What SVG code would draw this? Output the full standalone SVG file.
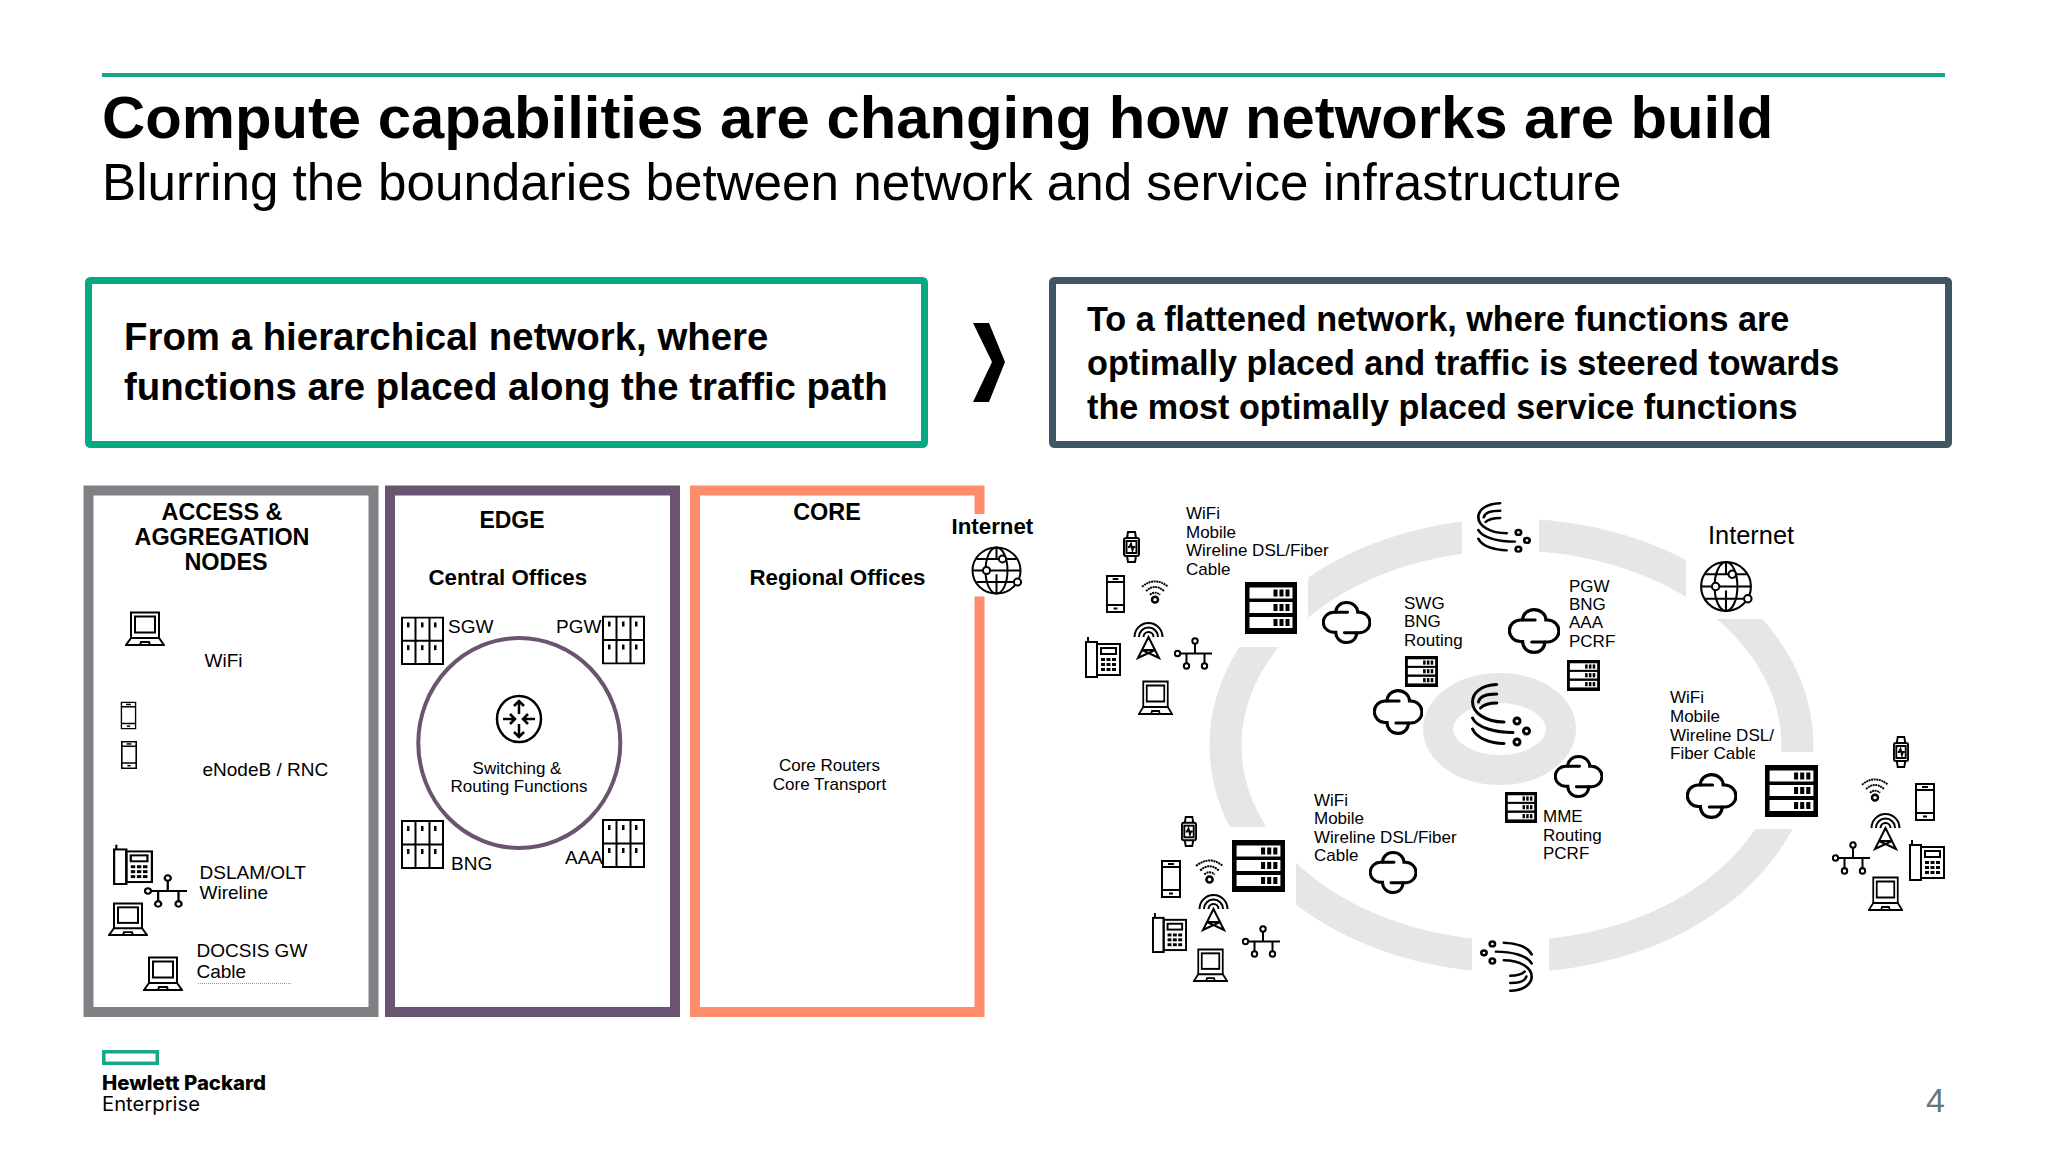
<svg xmlns="http://www.w3.org/2000/svg" width="2048" height="1152" viewBox="0 0 2048 1152">
<style>
text{font-family:"Liberation Sans",Arial,sans-serif;fill:#000}
.b{font-weight:700}
.t17{font-size:17px}.t19{font-size:19px}.t23{font-size:23.400px;font-weight:700}.t22{font-size:22.300px;font-weight:700}
.m{text-anchor:middle}
.ic{fill:none;stroke:#000;stroke-width:2}
.f3{fill:none;stroke:#000;stroke-width:3;stroke-linecap:round}
.k{fill:#000;stroke:none}
.w{fill:#fff;stroke:none}
.panel{fill:#fff;stroke-width:10}
</style>
<defs>
<symbol id="laptop" viewBox="0 0 40 35" preserveAspectRatio="none"><g class="ic"><path d="M6 27V1.5H34V27"/><rect x="10" y="5.500" width="20" height="16"/><path d="M6 27L1 34H39L34 27ZM15 34l1-3h8l1 3"/></g></symbol>
<symbol id="phone" viewBox="0 0 20 38" preserveAspectRatio="none"><g class="ic"><rect x="1" y="1" width="18" height="36"/><path d="M1 7H19M1 30H19"/></g><rect class="k" x="7" y="3" width="6" height="2"/><rect class="k" x="8" y="32.500" width="4" height="2"/></symbol>
<symbol id="desk" viewBox="0 0 36 41" preserveAspectRatio="none"><g class="ic"><rect x="1" y="5" width="11" height="35"/><path d="M3 5V0"/><rect x="12" y="7" width="23" height="31"/><rect x="16" y="11" width="15" height="6"/></g>
<g class="k"><rect x="16" y="21" width="4" height="3"/><rect x="21.500" y="21" width="4" height="3"/><rect x="27" y="21" width="4" height="3"/><rect x="16" y="26" width="4" height="3"/><rect x="21.500" y="26" width="4" height="3"/><rect x="27" y="26" width="4" height="3"/><rect x="16" y="31" width="4" height="3"/><rect x="21.500" y="31" width="4" height="3"/><rect x="27" y="31" width="4" height="3"/></g></symbol>
<symbol id="netw" viewBox="0 0 38 33" preserveAspectRatio="none"><g class="ic"><path d="M6 16.500H38M21 7V16.500M12.500 16.500V26M30.500 16.500V26"/><circle cx="3.500" cy="16.500" r="2.700"/><circle cx="21" cy="4" r="2.700"/><circle cx="12.500" cy="29" r="2.700"/><circle cx="30.500" cy="29" r="2.700"/></g></symbol>
<symbol id="wifi" viewBox="0 0 28 26" preserveAspectRatio="none"><g class="ic"><path d="M1 8Q14 -3 27 8" stroke-dasharray="2 .6"/><path d="M5 12.500Q14 4 23 12.500" stroke-dasharray="2 .6"/><path d="M9 16.500Q14 12 19 16.500" stroke-dasharray="2 .6"/><circle cx="14" cy="21.500" r="3" stroke-width="2.500"/></g></symbol>
<symbol id="tower" viewBox="0 0 31 38" preserveAspectRatio="none"><g class="ic" stroke-width="2.200"><path d="M1.500 15A14 14 0 0 1 29.500 15M6 15A9.500 9.500 0 0 1 25 15M10.500 15A5 5 0 0 1 20.500 15"/><path d="M15.500 15L5 36L22 28H9L26 36Z"/></g></symbol>
<symbol id="watch" viewBox="0 0 17 32" preserveAspectRatio="none"><g class="ic" stroke-width="1.500"><rect x="1" y="7" width="15" height="18" rx="2"/><rect x="3.500" y="10" width="10" height="12"/><path d="M4 7L5 1H12L13 7M4 25L5 31H12L13 25M5 16h1.500l1.500-3l1.500 6l1-3h2"/></g></symbol>
<symbol id="server" viewBox="0 0 52 52" preserveAspectRatio="none"><rect class="k" width="52" height="52"/><g class="w"><rect x="4.500" y="5.500" width="43" height="11"/><rect x="4.500" y="20" width="43" height="11"/><rect x="4.500" y="35" width="43" height="11"/></g><g class="k"><rect x="28.500" y="7.500" width="4" height="7"/><rect x="34.500" y="7.500" width="4" height="7"/><rect x="40.500" y="7.500" width="4" height="7"/><rect x="28.500" y="22" width="4" height="7"/><rect x="34.500" y="22" width="4" height="7"/><rect x="40.500" y="22" width="4" height="7"/><rect x="28.500" y="37" width="4" height="7"/><rect x="34.500" y="37" width="4" height="7"/><rect x="40.500" y="37" width="4" height="7"/></g></symbol>
<symbol id="cloud" viewBox="0 0 48 44" preserveAspectRatio="none"><g class="f3" stroke-width="2.800"><path d="M25 11.500H11.500A10 10 0 0 0 11.500 32H13.500C13.500 38 18 42.500 24 42.500C30 42.500 34 38 34 32.500"/><path d="M22 32.500H36.500A10.500 10.500 0 0 0 36.500 11.500H35C35 6 30 1.500 24 1.500C18 1.500 13.500 6 13.500 11.500"/></g></symbol>
<symbol id="globe" viewBox="0 0 52 52" preserveAspectRatio="none"><g class="ic" stroke-width="2.400"><circle cx="26" cy="26" r="24"/><ellipse cx="26" cy="26" rx="11" ry="24"/><path d="M26 2V13M26 30V50M6 14H28M36 14H46M2 26H12M20 26H50M6 38H43"/></g><g class="ic" stroke-width="2.400"><circle cx="32" cy="14" r="3.600" fill="#fff"/><circle cx="16" cy="26" r="3.600" fill="#fff"/><circle cx="47" cy="38" r="3.600" fill="#fff"/></g></symbol>
<symbol id="rack" viewBox="0 0 43 49" preserveAspectRatio="none"><g class="ic"><rect x="1" y="1" width="41" height="47"/><path d="M1 24.500H42M14.500 1V48M28.500 1V48"/></g><g class="k"><rect x="6" y="6" width="2.500" height="5"/><rect x="20" y="6" width="2.500" height="5"/><rect x="33" y="6" width="2.500" height="5"/><rect x="6" y="29" width="2.500" height="5"/><rect x="20" y="29" width="2.500" height="5"/><rect x="33" y="29" width="2.500" height="5"/></g></symbol>
<symbol id="fiber" viewBox="0 0 60 65" preserveAspectRatio="none"><g class="f3"><path d="M25.700 1.500C10 2 1.500 10 1.500 19C1.500 30 15 39 33 39"/><path d="M25.700 11C15 11 8.500 14 7.500 19M25.700 20C18 20 12.500 22 9.500 25"/><path d="M1.500 35C6 45 25 49.500 42 49.500M1.500 46C6 56 20 60 33 60.500"/><circle cx="46" cy="38" r="3"/><circle cx="55.500" cy="48" r="3"/><circle cx="46" cy="59" r="3"/></g></symbol>
</defs>
<rect width="2048" height="1152" fill="#fff"/>
<g id="header">
<rect x="102" y="73" width="1843" height="4" fill="#17a687"/>
<text class="b" x="102" y="138" font-size="59.800">Compute capabilities are changing how networks are build</text>
<text x="102" y="200" font-size="51.200">Blurring the boundaries between network and service infrastructure</text>
</g>
<g id="from-box">
<rect x="88.500" y="280.500" width="836" height="164" rx="2" fill="#fff" stroke="#07a884" stroke-width="7"/>
<text class="b" x="124" y="350" font-size="38.400">From a hierarchical network, where</text>
<text class="b" x="124" y="400" font-size="38.400">functions are placed along the traffic path</text>
</g>
<polygon id="chevron" points="973,323 989,323 1005,362 989,402 973,402 992,362" fill="#000"/>
<g id="to-box">
<rect x="1052.500" y="280.500" width="896" height="164" rx="2" fill="#fff" stroke="#425563" stroke-width="7"/>
<text class="b" x="1087" y="331" font-size="34.200">To a flattened network, where functions are</text>
<text class="b" x="1087" y="375" font-size="34.200">optimally placed and traffic is steered towards</text>
<text class="b" x="1087" y="419" font-size="34.200">the most optimally placed service functions</text>
</g>

<g id="access">
<rect class="panel" x="88.500" y="490.500" width="285" height="521.500" stroke="#808184"/>
<text class="t23 m" x="222" y="520">ACCESS &amp;</text>
<text class="t23 m" x="222" y="544.500">AGGREGATION</text>
<text class="t23 m" x="226" y="570">NODES</text>
<use href="#laptop" x="125" y="611" width="40" height="35"/>
<text class="t19" x="204.500" y="667">WiFi</text>
<use href="#phone" x="120.500" y="701.500" width="16" height="28"/>
<use href="#phone" x="121" y="741" width="16" height="28"/>
<text class="t19" x="202.500" y="775.500">eNodeB / RNC</text>
<use href="#desk" x="113" y="844.500" width="40" height="40.500"/>
<use href="#netw" x="144" y="874" width="43" height="34"/>
<use href="#laptop" x="108" y="902" width="40" height="34"/>
<text class="t19" x="199.500" y="879">DSLAM/OLT</text>
<text class="t19" x="199.500" y="899">Wireline</text>
<use href="#laptop" x="143" y="956" width="40" height="35"/>
<text class="t19" x="196.500" y="957">DOCSIS GW</text>
<text class="t19" x="196.500" y="978">Cable</text>
<path d="M198 983.500H292" stroke="#999" stroke-width="1" stroke-dasharray="1 1"/>
</g>

<g id="edge">
<rect class="panel" x="390" y="490.500" width="285" height="521.500" stroke="#6a5470"/>
<text class="m" x="512" y="527.500" font-size="23" font-weight="700">EDGE</text>
<text class="t22" x="428.500" y="585">Central Offices</text>
<ellipse cx="519.300" cy="743" rx="101" ry="105" fill="#fff" stroke="#6a5470" stroke-width="4"/>
<use href="#rack" x="401" y="616.500" width="43" height="48.500"/>
<use href="#rack" x="602" y="615.500" width="43" height="49"/>
<use href="#rack" x="401" y="820" width="43" height="49"/>
<use href="#rack" x="602" y="819" width="43" height="49"/>
<text class="t19" x="448" y="633">SGW</text>
<text class="t19" x="556" y="633">PGW</text>
<text class="t19" x="451" y="870">BNG</text>
<text class="t19" x="565" y="864">AAA</text>
<g id="router">
<ellipse cx="519" cy="719" rx="22" ry="23" fill="none" stroke="#000" stroke-width="2.500"/>
<path d="M519 714V701M514 706l5-5l5 5M519 724V737M514 732l5 5l5-5M503 719H515M510 714l5 5l-5 5M535 719H523M528 714l-5 5l5 5" fill="none" stroke="#000" stroke-width="2.500"/>
</g>
<text class="t17 m" x="517" y="774">Switching &amp;</text>
<text class="t17 m" x="519" y="792">Routing Functions</text>
</g>

<g id="core">
<rect class="panel" x="695" y="490.500" width="284.500" height="521.500" stroke="#ff8d6d"/>
<rect x="966" y="514" width="72" height="82.500" fill="#fff"/>
<text class="t23 m" x="827" y="519.500">CORE</text>
<text class="t22" x="749.500" y="585">Regional Offices</text>
<text class="t17 m" x="829.500" y="771">Core Routers</text>
<text class="t17 m" x="829.500" y="789.500">Core Transport</text>
<text class="t22" x="951.500" y="534">Internet</text>
<use href="#globe" x="970.500" y="545.500" width="52" height="50"/>
</g>

<g id="rings">
<ellipse cx="1511.500" cy="745.500" rx="286" ry="211" fill="none" stroke="#e6e6e9" stroke-width="32"/>
<ellipse cx="1499.500" cy="729" rx="61.500" ry="41" fill="none" stroke="#e6e6e9" stroke-width="30"/>
<g class="w">
<rect x="1462" y="505" width="77" height="60"/>
<rect x="1686" y="535" width="120" height="84"/>
<rect x="1740" y="752" width="90" height="77"/>
<rect x="1472" y="925" width="77" height="60"/>
<rect x="1190" y="827" width="106" height="90"/>
<rect x="1225" y="560" width="83" height="87"/>
</g>
</g>

<g id="site-top-left">
<use href="#watch" x="1123" y="531" width="17" height="32"/>
<use href="#phone" x="1106" y="575" width="19" height="38"/>
<use href="#wifi" x="1141" y="579" width="28" height="25"/>
<use href="#tower" x="1133" y="622" width="31" height="38"/>
<use href="#desk" x="1085" y="637" width="36" height="41"/>
<use href="#netw" x="1174" y="637" width="38" height="33"/>
<use href="#laptop" x="1138" y="680" width="35" height="35"/>
<use href="#server" x="1245" y="582" width="52" height="52"/>
<use href="#cloud" x="1322" y="601" width="49" height="43"/>
<text class="t17" x="1186" y="519">WiFi</text>
<text class="t17" x="1186" y="538">Mobile</text>
<text class="t17" x="1186" y="556">Wireline DSL/Fiber</text>
<text class="t17" x="1186" y="575">Cable</text>
</g>
<use id="fiber-top" href="#fiber" x="1477" y="502" width="54" height="52"/>
<g id="site-swg">
<text class="t17" x="1404" y="609">SWG</text>
<text class="t17" x="1404" y="627">BNG</text>
<text class="t17" x="1404" y="646">Routing</text>
<use href="#server" x="1405" y="656" width="33" height="31"/>
<use href="#cloud" x="1373" y="689" width="50" height="46"/>
</g>
<use id="fiber-center" href="#fiber" x="1471" y="683" width="60" height="65"/>
<g id="site-pgw">
<use href="#cloud" x="1508" y="608" width="52" height="46"/>
<text class="t17" x="1569" y="592">PGW</text>
<text class="t17" x="1569" y="610">BNG</text>
<text class="t17" x="1569" y="628">AAA</text>
<text class="t17" x="1569" y="647">PCRF</text>
<use href="#server" x="1567" y="660" width="33" height="31"/>
</g>
<g id="internet">
<text x="1708" y="544" font-size="25.400">Internet</text>
<use href="#globe" x="1699" y="560" width="54" height="53"/>
</g>
<g id="site-right">
<text class="t17" x="1670" y="703">WiFi</text>
<text class="t17" x="1670" y="722">Mobile</text>
<text class="t17" x="1670" y="741">Wireline DSL/</text>
<text class="t17" x="1670" y="759">Fiber Cable</text>
<rect class="w" x="1755" y="743" width="10" height="20"/>
<use href="#cloud" x="1686" y="773" width="51" height="46"/>
<use href="#server" x="1765" y="765" width="53" height="52"/>
<use href="#watch" x="1893" y="736" width="16" height="32"/>
<use href="#wifi" x="1861" y="777" width="28" height="25"/>
<use href="#phone" x="1915" y="783" width="20" height="38"/>
<use href="#tower" x="1870" y="813" width="31" height="38"/>
<use href="#netw" x="1832" y="841" width="38" height="34"/>
<use href="#desk" x="1909" y="840" width="36" height="41"/>
<use href="#laptop" x="1868" y="876" width="35" height="35"/>
</g>
<g id="site-mme">
<use href="#cloud" x="1554" y="755" width="49" height="43"/>
<use href="#server" x="1505" y="792" width="32" height="31"/>
<text class="t17" x="1543" y="822">MME</text>
<text class="t17" x="1543" y="841">Routing</text>
<text class="t17" x="1543" y="859">PCRF</text>
</g>
<g id="site-bottom-left">
<use href="#watch" x="1181" y="816" width="16" height="31"/>
<use href="#phone" x="1161" y="860" width="20" height="38"/>
<use href="#wifi" x="1195" y="858" width="29" height="26"/>
<use href="#server" x="1232" y="840" width="53" height="52"/>
<use href="#tower" x="1198" y="894" width="31" height="38"/>
<use href="#desk" x="1152" y="913" width="35" height="40"/>
<use href="#netw" x="1242" y="925" width="38" height="33"/>
<use href="#laptop" x="1193" y="948" width="35" height="34"/>
<text class="t17" x="1314" y="806">WiFi</text>
<text class="t17" x="1314" y="824">Mobile</text>
<text class="t17" x="1314" y="843">Wireline DSL/Fiber</text>
<text class="t17" x="1314" y="861">Cable</text>
<use href="#cloud" x="1369" y="851" width="48" height="43"/>
</g>
<use id="fiber-bottom" href="#fiber" x="1480" y="939" width="53" height="53" transform="rotate(180 1506.500 965.500)"/>

<g id="logo">
<rect x="103.800" y="1051.800" width="53.500" height="11.500" fill="none" stroke="#17a687" stroke-width="3.500"/>
<text x="102" y="1090" font-size="19.500" font-weight="800" style="font-family:Inter,sans-serif" textLength="164" lengthAdjust="spacingAndGlyphs">Hewlett Packard</text>
<text x="102" y="1110.500" font-size="19.500" style="font-family:Inter,sans-serif" textLength="98" lengthAdjust="spacingAndGlyphs">Enterprise</text>
</g>
<text id="page" x="1926" y="1112" font-size="34" style="fill:#627a78">4</text>
</svg>
